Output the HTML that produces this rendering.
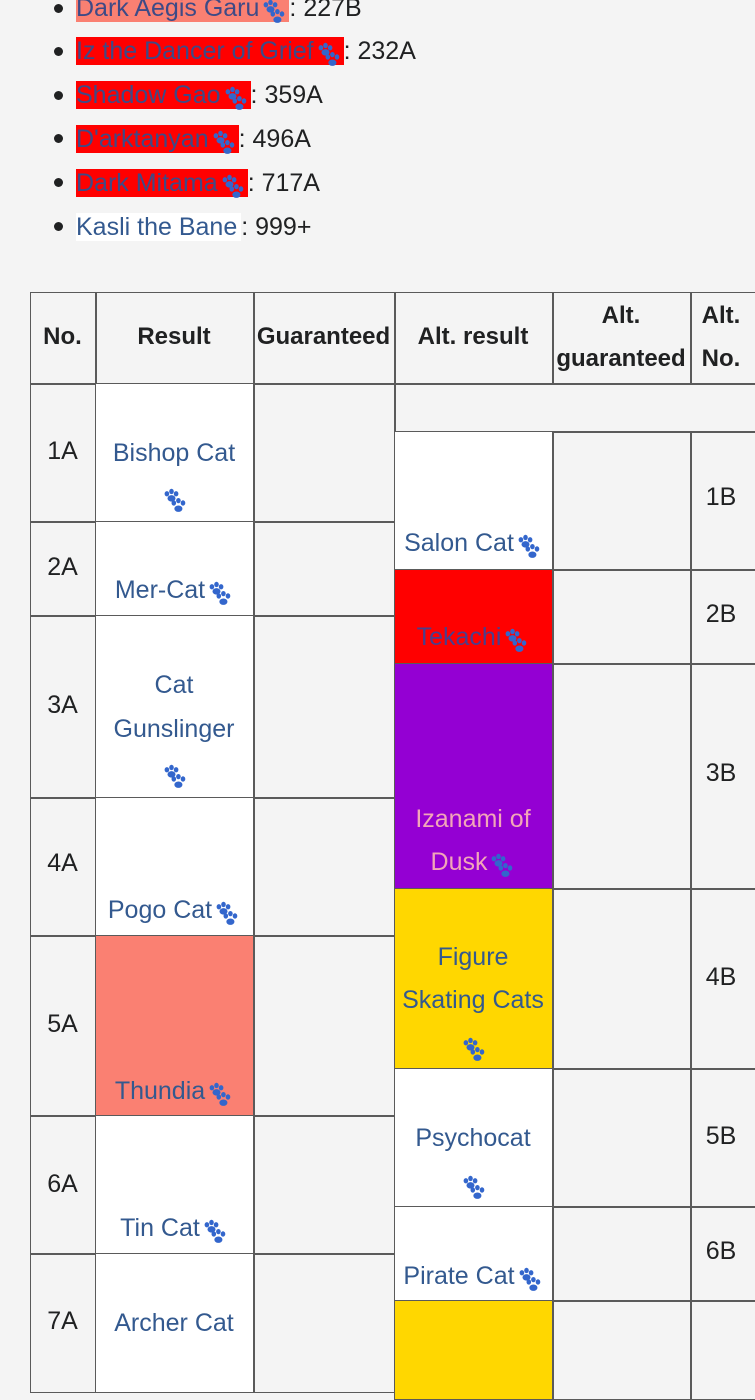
<!DOCTYPE html>
<html><head><meta charset="utf-8"><style>
body{margin:0;width:755px;height:1345px;overflow:hidden;background:#f4f4f4;font-family:"Liberation Sans",sans-serif;font-size:25px;color:#202122;position:relative}
.c{position:absolute;border:1.5px solid #5a5a5a;box-sizing:border-box}
.t{position:absolute;text-align:center;line-height:28px;white-space:nowrap}
.l{color:#33598f}
.h{font-weight:bold;font-size:24px}
.li{position:absolute;left:76px;line-height:30px;white-space:nowrap}
.b{position:absolute;left:54px;width:9px;height:9px;border-radius:50%;background:#202122}
.hl{color:#3e4a86;padding-right:2px}
svg.p{width:28px;height:24px;vertical-align:-7px}
</style></head><body>
<svg width="0" height="0" style="position:absolute"><defs><g id="paw" fill="#3366cc" transform="scale(1.15)"><ellipse cx="6" cy="5" rx="2" ry="2.3"/><ellipse cx="10" cy="3" rx="2" ry="2.3"/><ellipse cx="14" cy="5" rx="2" ry="2.3"/><ellipse cx="10" cy="9" rx="3.5" ry="2.8"/><ellipse cx="12" cy="13" rx="2" ry="2.3"/><ellipse cx="16" cy="11" rx="2" ry="2.3"/><ellipse cx="20" cy="13" rx="2" ry="2.3"/><ellipse cx="16" cy="18" rx="3.5" ry="2.8"/></g></defs></svg>

<div>
<div class="b" style="top:4px"></div><div class="li" style="top:-7px"><span class="hl" style="background:#fa8072">Dark Aegis Garu<svg class="p"><use href="#paw"/></svg></span>: 227B</div>
<div class="b" style="top:47px"></div><div class="li" style="top:36px"><span class="hl" style="background:#ff0000">Iz the Dancer of Grief<svg class="p"><use href="#paw"/></svg></span>: 232A</div>
<div class="b" style="top:91px"></div><div class="li" style="top:80px"><span class="hl" style="background:#ff0000">Shadow Gao<svg class="p"><use href="#paw"/></svg></span>: 359A</div>
<div class="b" style="top:134px"></div><div class="li" style="top:124px"><span class="hl" style="background:#ff0000">D'arktanyan<svg class="p"><use href="#paw"/></svg></span>: 496A</div>
<div class="b" style="top:178px"></div><div class="li" style="top:168px"><span class="hl" style="background:#ff0000">Dark Mitama<svg class="p"><use href="#paw"/></svg></span>: 717A</div>
<div class="b" style="top:222px"></div><div class="li" style="top:212px"><span class="l" style="background:#fff;padding-right:4px">Kasli the Bane</span>: 999+</div>
</div>

<div>
<div class="c" style="left:30px;top:292px;width:67px;height:93px"></div>
<div class="c" style="left:95px;top:292px;width:160px;height:93px"></div>
<div class="c" style="left:253px;top:292px;width:143px;height:93px"></div>
<div class="c" style="left:394px;top:292px;width:160px;height:93px"></div>
<div class="c" style="left:552px;top:292px;width:140px;height:93px"></div>
<div class="c" style="left:690px;top:292px;width:70px;height:93px"></div>
<div class="t h" style="left:30px;width:65px;top:323px">No.</div>
<div class="t h" style="left:95px;width:158px;top:323px">Result</div>
<div class="t h" style="left:253px;width:141px;top:323px">Guaranteed</div>
<div class="t h" style="left:394px;width:158px;top:323px">Alt. result</div>
<div class="t h" style="left:552px;width:138px;top:302px">Alt.</div>
<div class="t h" style="left:552px;width:138px;top:345px">guaranteed</div>
<div class="t h" style="left:690px;width:62px;top:302px">Alt.</div>
<div class="t h" style="left:690px;width:62px;top:345px">No.</div>

<div class="c" style="left:30px;top:383px;width:67px;height:140px"></div>
<div class="c" style="left:95px;top:383px;width:160px;height:140px;background:#fff"></div>
<div class="c" style="left:253px;top:383px;width:143px;height:140px"></div>
<div class="c" style="left:30px;top:521px;width:67px;height:96px"></div>
<div class="c" style="left:95px;top:521px;width:160px;height:96px;background:#fff"></div>
<div class="c" style="left:253px;top:521px;width:143px;height:96px"></div>
<div class="c" style="left:30px;top:615px;width:67px;height:184px"></div>
<div class="c" style="left:95px;top:615px;width:160px;height:184px;background:#fff"></div>
<div class="c" style="left:253px;top:615px;width:143px;height:184px"></div>
<div class="c" style="left:30px;top:797px;width:67px;height:140px"></div>
<div class="c" style="left:95px;top:797px;width:160px;height:140px;background:#fff"></div>
<div class="c" style="left:253px;top:797px;width:143px;height:140px"></div>
<div class="c" style="left:30px;top:935px;width:67px;height:182px"></div>
<div class="c" style="left:95px;top:935px;width:160px;height:182px;background:#fa8072"></div>
<div class="c" style="left:253px;top:935px;width:143px;height:182px"></div>
<div class="c" style="left:30px;top:1115px;width:67px;height:140px"></div>
<div class="c" style="left:95px;top:1115px;width:160px;height:140px;background:#fff"></div>
<div class="c" style="left:253px;top:1115px;width:143px;height:140px"></div>
<div class="c" style="left:30px;top:1253px;width:67px;height:140px"></div>
<div class="c" style="left:95px;top:1253px;width:160px;height:140px;background:#fff"></div>
<div class="c" style="left:253px;top:1253px;width:143px;height:140px"></div>

<div class="c" style="left:394px;top:383px;width:366px;height:50px"></div>
<div class="c" style="left:394px;top:431px;width:160px;height:140px;background:#fff"></div>
<div class="c" style="left:552px;top:431px;width:140px;height:140px"></div>
<div class="c" style="left:690px;top:431px;width:70px;height:140px"></div>
<div class="c" style="left:394px;top:569px;width:160px;height:96px;background:#ff0000"></div>
<div class="c" style="left:552px;top:569px;width:140px;height:96px"></div>
<div class="c" style="left:690px;top:569px;width:70px;height:96px"></div>
<div class="c" style="left:394px;top:663px;width:160px;height:227px;background:#9400d3"></div>
<div class="c" style="left:552px;top:663px;width:140px;height:227px"></div>
<div class="c" style="left:690px;top:663px;width:70px;height:227px"></div>
<div class="c" style="left:394px;top:888px;width:160px;height:182px;background:#ffd700"></div>
<div class="c" style="left:552px;top:888px;width:140px;height:182px"></div>
<div class="c" style="left:690px;top:888px;width:70px;height:182px"></div>
<div class="c" style="left:394px;top:1068px;width:160px;height:140px;background:#fff"></div>
<div class="c" style="left:552px;top:1068px;width:140px;height:140px"></div>
<div class="c" style="left:690px;top:1068px;width:70px;height:140px"></div>
<div class="c" style="left:394px;top:1206px;width:160px;height:96px;background:#fff"></div>
<div class="c" style="left:552px;top:1206px;width:140px;height:96px"></div>
<div class="c" style="left:690px;top:1206px;width:70px;height:96px"></div>
<div class="c" style="left:394px;top:1300px;width:160px;height:100px;background:#ffd700"></div>
<div class="c" style="left:552px;top:1300px;width:140px;height:100px"></div>
<div class="c" style="left:690px;top:1300px;width:70px;height:100px"></div>

<div class="t" style="left:30px;width:65px;top:437px">1A</div>
<div class="t l" style="left:95px;width:158px;top:439px">Bishop Cat</div>
<div class="t" style="left:95px;width:158px;top:483px"><svg class="p"><use href="#paw"/></svg></div>
<div class="t" style="left:30px;width:65px;top:553px">2A</div>
<div class="t l" style="left:95px;width:158px;top:576px">Mer-Cat<svg class="p"><use href="#paw"/></svg></div>
<div class="t" style="left:30px;width:65px;top:691px">3A</div>
<div class="t l" style="left:95px;width:158px;top:671px">Cat</div>
<div class="t l" style="left:95px;width:158px;top:715px">Gunslinger</div>
<div class="t" style="left:95px;width:158px;top:759px"><svg class="p"><use href="#paw"/></svg></div>
<div class="t" style="left:30px;width:65px;top:849px">4A</div>
<div class="t l" style="left:95px;width:158px;top:896px">Pogo Cat<svg class="p"><use href="#paw"/></svg></div>
<div class="t" style="left:30px;width:65px;top:1010px">5A</div>
<div class="t l" style="left:95px;width:158px;top:1077px">Thundia<svg class="p"><use href="#paw"/></svg></div>
<div class="t" style="left:30px;width:65px;top:1170px">6A</div>
<div class="t l" style="left:95px;width:158px;top:1214px">Tin Cat<svg class="p"><use href="#paw"/></svg></div>
<div class="t" style="left:30px;width:65px;top:1307px">7A</div>
<div class="t l" style="left:95px;width:158px;top:1309px">Archer Cat</div>

<div class="t l" style="left:394px;width:158px;top:529px">Salon Cat<svg class="p"><use href="#paw"/></svg></div>
<div class="t" style="left:394px;width:158px;top:623px;color:#4a3f8c">Tekachi<svg class="p"><use href="#paw"/></svg></div>
<div class="t" style="left:394px;width:158px;top:805px;color:#f2a6b8">Izanami of</div>
<div class="t" style="left:394px;width:158px;top:848px;color:#f2a6b8">Dusk<svg class="p"><use href="#paw"/></svg></div>
<div class="t l" style="left:394px;width:158px;top:943px">Figure</div>
<div class="t l" style="left:394px;width:158px;top:986px">Skating Cats</div>
<div class="t" style="left:394px;width:158px;top:1032px"><svg class="p"><use href="#paw"/></svg></div>
<div class="t l" style="left:394px;width:158px;top:1124px">Psychocat</div>
<div class="t" style="left:394px;width:158px;top:1170px"><svg class="p"><use href="#paw"/></svg></div>
<div class="t l" style="left:394px;width:158px;top:1262px">Pirate Cat<svg class="p"><use href="#paw"/></svg></div>
<div class="t" style="left:690px;width:62px;top:483px">1B</div>
<div class="t" style="left:690px;width:62px;top:600px">2B</div>
<div class="t" style="left:690px;width:62px;top:759px">3B</div>
<div class="t" style="left:690px;width:62px;top:963px">4B</div>
<div class="t" style="left:690px;width:62px;top:1122px">5B</div>
<div class="t" style="left:690px;width:62px;top:1237px">6B</div>
</div>
</body></html>
